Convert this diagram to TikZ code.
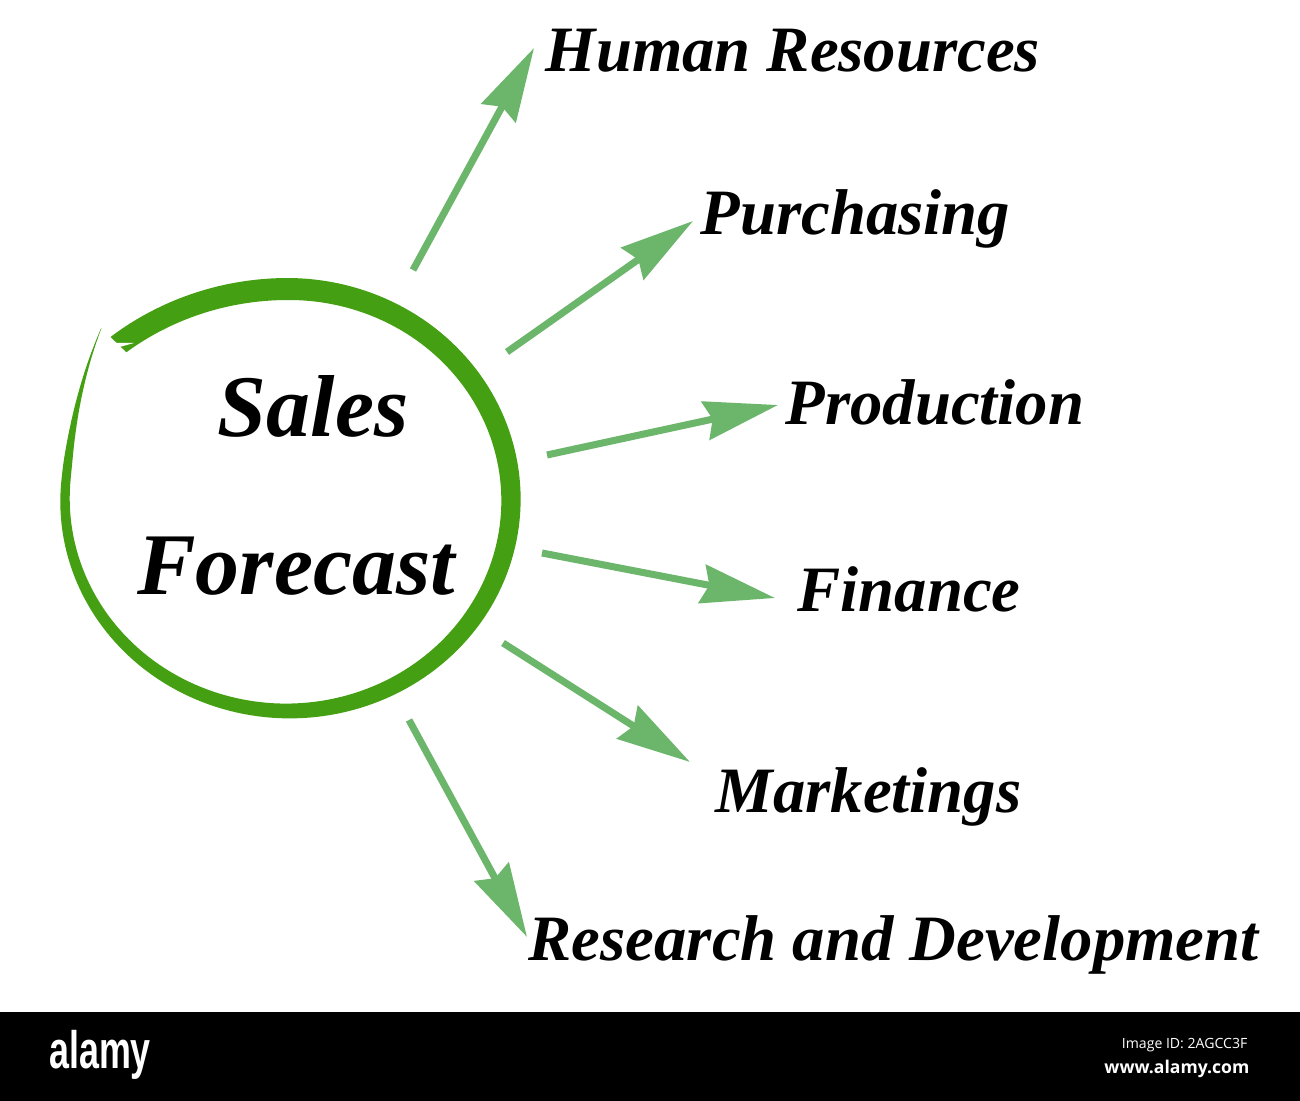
\documentclass[tikz,border=0pt]{standalone}
\usepackage{fontspec}
\setmainfont{Liberation Serif}
\newfontfamily\wmfont{Liberation Sans}
\newfontfamily\idfont{Open Sans}
\usetikzlibrary{arrows.meta}
\definecolor{ringgreen}{RGB}{68,160,18}
\definecolor{arrowgreen}{RGB}{108,182,108}
\tikzset{
  arr/.style={draw=arrowgreen, line width=2pt, line cap=butt,
    -{Stealth[length=21pt, width=11pt, inset=2pt]}},
  lbl/.style={anchor=base west, inner sep=0pt, font=\fontsize{18.4}{20}\selectfont\bfseries\itshape},
  title/.style={anchor=base, inner sep=0pt, font=\fontsize{25}{28}\selectfont\bfseries\itshape},
  wm/.style={text=white, inner sep=0pt}
}
\begin{document}
\begin{tikzpicture}[x=0.01cm, y=-0.01cm,
  declare function={
    W(\t)=22-0.03*max(0,90-\t)-0.03*max(0,-30-\t)-0.19*max(0,-190-\t);
    D(\t)=0.024*(max(0,-185-\t))^2+0.006*(max(0,\t-90))^2;
  }]
\useasboundingbox (0,0) rectangle (1300,1101);
\fill[white] (0,0) rectangle (1300,1101);
% ring
\coordinate (c) at (288,500);
\fill[ringgreen]
  plot[domain=136:-224, samples=200, variable=\t]
    ({288+(223+D(\t)+0.5*W(\t))*cos(\t)}, {500-(211+D(\t)+0.5*W(\t))*sin(\t)})
  -- plot[domain=-224:136, samples=200, variable=\t]
    ({288+(223+D(\t)-0.5*W(\t))*cos(\t)}, {500-(211+D(\t)-0.5*W(\t))*sin(\t)})
  -- cycle;
\fill[white] (114,343) -- (116,348) -- (134,343) -- cycle;
% titles
\node[title] (sales) at (313,437) {Sales};
\node[title] (fore) at (296,595) {Forecast};
% labels
\node[lbl] (hr)   at (545,72)  {Human Resources};
\node[lbl] (pur)  at (700,235) {Purchasing};
\node[lbl] (prod) at (785,425) {Production};
\node[lbl] (fin)  at (797,612) {Finance};
\node[lbl] (mkt)  at (715,813) {Marketings};
\node[lbl] (rd)   at (528,960) {Research and Development};
% arrow endpoints
\coordinate (s1) at (413,270); \coordinate (t1) at (534,48);
\coordinate (s2) at (507,352); \coordinate (t2) at (693,221);
\coordinate (s3) at (547,455); \coordinate (t3) at (778,405);
\coordinate (s4) at (542,553); \coordinate (t4) at (775,598);
\coordinate (s5) at (503,643); \coordinate (t5) at (690,762);
\coordinate (s6) at (409,720); \coordinate (t6) at (527,937);
\draw[arr] (s1) -- (t1);
\draw[arr] (s2) -- (t2);
\draw[arr] (s3) -- (t3);
\draw[arr] (s4) -- (t4);
\draw[arr] (s5) -- (t5);
\draw[arr] (s6) -- (t6);
% watermark bar
\fill[black] (0,1012) rectangle (1300,1101);
\node[wm, anchor=base, xscale=0.68, font=\wmfont\bfseries\fontsize{15}{16}\selectfont] (logo) at (100,1068) {alamy};
\node[wm, anchor=base east, font=\idfont\fontsize{4}{5}\selectfont] (imgid) at (1248,1048) {Image ID: 2AGCC3F};
\node[wm, anchor=base east, font=\idfont\bfseries\fontsize{5}{6}\selectfont] (www) at (1250,1073) {www.alamy.com};
\end{tikzpicture}
\end{document}
